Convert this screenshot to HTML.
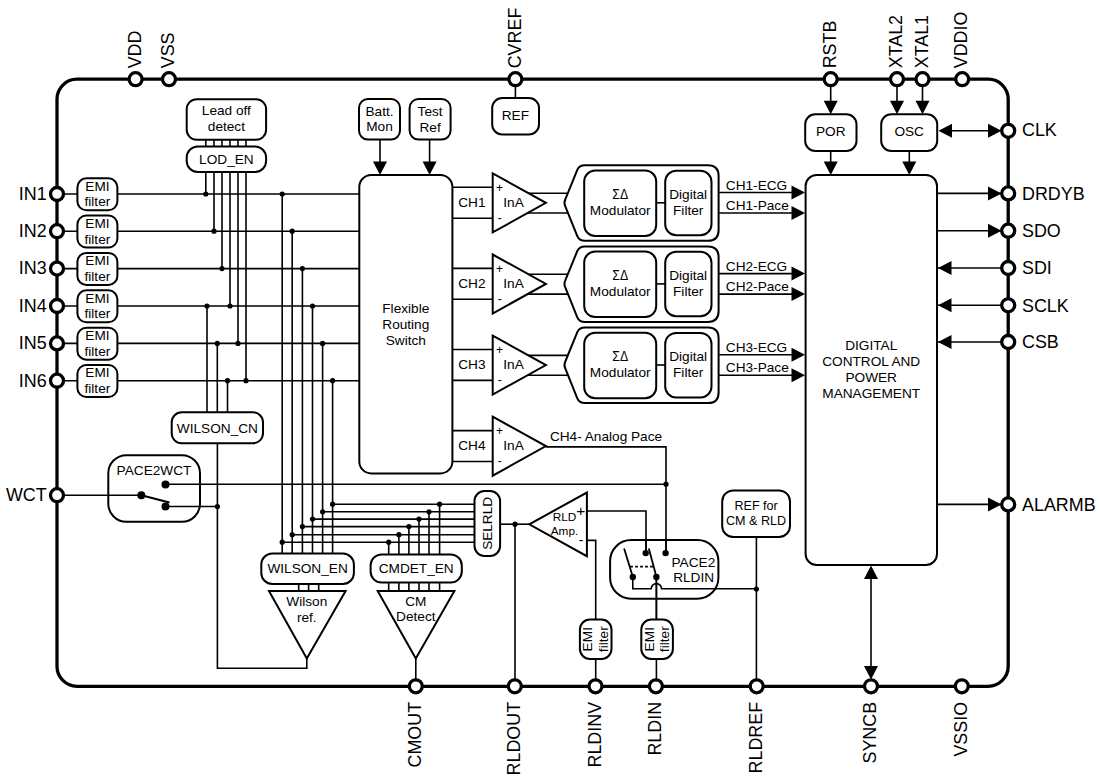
<!DOCTYPE html><html><head><meta charset="utf-8"><style>html,body{margin:0;padding:0;background:#fff;}svg{display:block;}text{font-family:"Liberation Sans",sans-serif;fill:#000;}</style></head><body>
<svg width="1100" height="778" viewBox="0 0 1100 778">
<rect x="0" y="0" width="1100" height="778" fill="#fff"/>
<path d="M57.00,194.00 L359.30,194.00" fill="none" stroke="#000" stroke-width="1.6" />
<path d="M57.00,231.20 L359.30,231.20" fill="none" stroke="#000" stroke-width="1.6" />
<path d="M57.00,268.60 L359.30,268.60" fill="none" stroke="#000" stroke-width="1.6" />
<path d="M57.00,306.00 L359.30,306.00" fill="none" stroke="#000" stroke-width="1.6" />
<path d="M57.00,343.40 L359.30,343.40" fill="none" stroke="#000" stroke-width="1.6" />
<path d="M57.00,380.70 L359.30,380.70" fill="none" stroke="#000" stroke-width="1.6" />
<path d="M205.80,139.80 L205.80,146.50" fill="none" stroke="#000" stroke-width="1.6" />
<path d="M205.80,172.00 L205.80,194.00" fill="none" stroke="#000" stroke-width="1.6" />
<circle cx="205.80" cy="194.00" r="2.6" fill="#000"/>
<path d="M214.00,139.80 L214.00,146.50" fill="none" stroke="#000" stroke-width="1.6" />
<path d="M214.00,172.00 L214.00,231.20" fill="none" stroke="#000" stroke-width="1.6" />
<circle cx="214.00" cy="231.20" r="2.6" fill="#000"/>
<path d="M222.00,139.80 L222.00,146.50" fill="none" stroke="#000" stroke-width="1.6" />
<path d="M222.00,172.00 L222.00,268.60" fill="none" stroke="#000" stroke-width="1.6" />
<circle cx="222.00" cy="268.60" r="2.6" fill="#000"/>
<path d="M230.00,139.80 L230.00,146.50" fill="none" stroke="#000" stroke-width="1.6" />
<path d="M230.00,172.00 L230.00,306.00" fill="none" stroke="#000" stroke-width="1.6" />
<circle cx="230.00" cy="306.00" r="2.6" fill="#000"/>
<path d="M238.00,139.80 L238.00,146.50" fill="none" stroke="#000" stroke-width="1.6" />
<path d="M238.00,172.00 L238.00,343.40" fill="none" stroke="#000" stroke-width="1.6" />
<circle cx="238.00" cy="343.40" r="2.6" fill="#000"/>
<path d="M246.00,139.80 L246.00,146.50" fill="none" stroke="#000" stroke-width="1.6" />
<path d="M246.00,172.00 L246.00,380.70" fill="none" stroke="#000" stroke-width="1.6" />
<circle cx="246.00" cy="380.70" r="2.6" fill="#000"/>
<path d="M207.00,306.00 L207.00,412.30" fill="none" stroke="#000" stroke-width="1.6" />
<circle cx="207.00" cy="306.00" r="2.6" fill="#000"/>
<path d="M217.30,343.40 L217.30,412.30" fill="none" stroke="#000" stroke-width="1.6" />
<circle cx="217.30" cy="343.40" r="2.6" fill="#000"/>
<path d="M227.50,380.70 L227.50,412.30" fill="none" stroke="#000" stroke-width="1.6" />
<circle cx="227.50" cy="380.70" r="2.6" fill="#000"/>
<path d="M217.40,443.30 L217.40,668.20 L306.80,668.20 L306.80,658.50" fill="none" stroke="#000" stroke-width="1.6" />
<circle cx="217.40" cy="506.50" r="2.6" fill="#000"/>
<path d="M282.20,194.00 L282.20,553.50" fill="none" stroke="#000" stroke-width="1.6" />
<circle cx="282.20" cy="194.00" r="2.6" fill="#000"/>
<path d="M282.20,542.20 L474.30,542.20" fill="none" stroke="#000" stroke-width="1.6" />
<circle cx="282.20" cy="542.20" r="2.6" fill="#000"/>
<path d="M388.70,542.20 L388.70,591.10" fill="none" stroke="#000" stroke-width="1.6" />
<circle cx="388.70" cy="542.20" r="2.6" fill="#000"/>
<path d="M292.20,231.20 L292.20,553.50" fill="none" stroke="#000" stroke-width="1.6" />
<circle cx="292.20" cy="231.20" r="2.6" fill="#000"/>
<path d="M292.20,534.70 L474.30,534.70" fill="none" stroke="#000" stroke-width="1.6" />
<circle cx="292.20" cy="534.70" r="2.6" fill="#000"/>
<path d="M398.90,534.70 L398.90,591.10" fill="none" stroke="#000" stroke-width="1.6" />
<circle cx="398.90" cy="534.70" r="2.6" fill="#000"/>
<path d="M302.40,268.60 L302.40,553.50" fill="none" stroke="#000" stroke-width="1.6" />
<circle cx="302.40" cy="268.60" r="2.6" fill="#000"/>
<path d="M302.40,526.60 L474.30,526.60" fill="none" stroke="#000" stroke-width="1.6" />
<circle cx="302.40" cy="526.60" r="2.6" fill="#000"/>
<path d="M408.90,526.60 L408.90,591.10" fill="none" stroke="#000" stroke-width="1.6" />
<circle cx="408.90" cy="526.60" r="2.6" fill="#000"/>
<path d="M312.50,306.00 L312.50,553.50" fill="none" stroke="#000" stroke-width="1.6" />
<circle cx="312.50" cy="306.00" r="2.6" fill="#000"/>
<path d="M312.50,519.10 L474.30,519.10" fill="none" stroke="#000" stroke-width="1.6" />
<circle cx="312.50" cy="519.10" r="2.6" fill="#000"/>
<path d="M419.00,519.10 L419.00,591.10" fill="none" stroke="#000" stroke-width="1.6" />
<circle cx="419.00" cy="519.10" r="2.6" fill="#000"/>
<path d="M322.60,343.40 L322.60,553.50" fill="none" stroke="#000" stroke-width="1.6" />
<circle cx="322.60" cy="343.40" r="2.6" fill="#000"/>
<path d="M322.60,511.80 L474.30,511.80" fill="none" stroke="#000" stroke-width="1.6" />
<circle cx="322.60" cy="511.80" r="2.6" fill="#000"/>
<path d="M429.00,511.80 L429.00,591.10" fill="none" stroke="#000" stroke-width="1.6" />
<circle cx="429.00" cy="511.80" r="2.6" fill="#000"/>
<path d="M332.60,380.70 L332.60,553.50" fill="none" stroke="#000" stroke-width="1.6" />
<circle cx="332.60" cy="380.70" r="2.6" fill="#000"/>
<path d="M332.60,504.20 L474.30,504.20" fill="none" stroke="#000" stroke-width="1.6" />
<circle cx="332.60" cy="504.20" r="2.6" fill="#000"/>
<path d="M439.60,504.20 L439.60,591.10" fill="none" stroke="#000" stroke-width="1.6" />
<circle cx="439.60" cy="504.20" r="2.6" fill="#000"/>
<path d="M298.70,583.90 L298.70,590.90" fill="none" stroke="#000" stroke-width="1.6" />
<path d="M308.60,583.90 L308.60,590.90" fill="none" stroke="#000" stroke-width="1.6" />
<path d="M318.70,583.90 L318.70,590.90" fill="none" stroke="#000" stroke-width="1.6" />
<path d="M165.50,484.20 L666.00,484.20" fill="none" stroke="#000" stroke-width="1.6" />
<circle cx="666.00" cy="484.20" r="2.6" fill="#000"/>
<path d="M165.50,506.50 L217.40,506.50" fill="none" stroke="#000" stroke-width="1.6" />
<path d="M57.00,495.20 L141.30,495.20" fill="none" stroke="#000" stroke-width="1.6" />
<path d="M415.80,658.40 L415.80,686.30" fill="none" stroke="#000" stroke-width="1.6" />
<path d="M500.00,524.20 L529.30,524.20" fill="none" stroke="#000" stroke-width="1.6" />
<path d="M515.00,524.20 L515.00,686.30" fill="none" stroke="#000" stroke-width="1.6" />
<circle cx="515.00" cy="524.20" r="2.6" fill="#000"/>
<path d="M586.90,511.00 L646.00,511.00 L646.00,553.10" fill="none" stroke="#000" stroke-width="1.6" />
<path d="M586.90,540.40 L595.70,540.40 L595.70,686.30" fill="none" stroke="#000" stroke-width="1.6" />
<path d="M545.80,446.90 L666.00,446.90 L666.00,553.10" fill="none" stroke="#000" stroke-width="1.6" />
<path d="M656.40,576.70 L656.40,686.30" fill="none" stroke="#000" stroke-width="1.6" />
<path d="M756.40,536.90 L756.40,686.30" fill="none" stroke="#000" stroke-width="1.6" />
<circle cx="756.40" cy="589.00" r="2.6" fill="#000"/>
<rect x="57.0" y="79.2" width="951.20" height="607.10" rx="20" ry="20" fill="none" stroke="#000" stroke-width="3.3"/>
<rect x="77.40" y="178.30" width="40.00" height="32.00" rx="9" ry="9" fill="#fff" stroke="#000" stroke-width="2.0"/>
<text x="97.40" y="190.70" font-size="13.6" text-anchor="middle" >EMI</text>
<text x="97.40" y="206.30" font-size="13.6" text-anchor="middle" >filter</text>
<rect x="77.40" y="215.50" width="40.00" height="32.00" rx="9" ry="9" fill="#fff" stroke="#000" stroke-width="2.0"/>
<text x="97.40" y="227.90" font-size="13.6" text-anchor="middle" >EMI</text>
<text x="97.40" y="243.50" font-size="13.6" text-anchor="middle" >filter</text>
<rect x="77.40" y="252.90" width="40.00" height="32.00" rx="9" ry="9" fill="#fff" stroke="#000" stroke-width="2.0"/>
<text x="97.40" y="265.30" font-size="13.6" text-anchor="middle" >EMI</text>
<text x="97.40" y="280.90" font-size="13.6" text-anchor="middle" >filter</text>
<rect x="77.40" y="290.30" width="40.00" height="32.00" rx="9" ry="9" fill="#fff" stroke="#000" stroke-width="2.0"/>
<text x="97.40" y="302.70" font-size="13.6" text-anchor="middle" >EMI</text>
<text x="97.40" y="318.30" font-size="13.6" text-anchor="middle" >filter</text>
<rect x="77.40" y="327.70" width="40.00" height="32.00" rx="9" ry="9" fill="#fff" stroke="#000" stroke-width="2.0"/>
<text x="97.40" y="340.10" font-size="13.6" text-anchor="middle" >EMI</text>
<text x="97.40" y="355.70" font-size="13.6" text-anchor="middle" >filter</text>
<rect x="77.40" y="365.00" width="40.00" height="32.00" rx="9" ry="9" fill="#fff" stroke="#000" stroke-width="2.0"/>
<text x="97.40" y="377.40" font-size="13.6" text-anchor="middle" >EMI</text>
<text x="97.40" y="393.00" font-size="13.6" text-anchor="middle" >filter</text>
<rect x="186.70" y="99.20" width="79.40" height="40.60" rx="10" ry="10" fill="#fff" stroke="#000" stroke-width="2.0"/>
<text x="226.40" y="115.40" font-size="13.65" text-anchor="middle" >Lead off</text>
<text x="226.40" y="131.30" font-size="13.65" text-anchor="middle" >detect</text>
<rect x="186.70" y="146.50" width="79.40" height="25.50" rx="11" ry="11" fill="#fff" stroke="#000" stroke-width="2.0"/>
<text x="226.40" y="163.50" font-size="13.65" text-anchor="middle" >LOD_EN</text>
<rect x="171.70" y="412.30" width="91.30" height="31.00" rx="10" ry="10" fill="#fff" stroke="#000" stroke-width="2.0"/>
<text x="217.40" y="432.70" font-size="13.65" text-anchor="middle" >WILSON_CN</text>
<rect x="108.30" y="455.30" width="91.70" height="66.40" rx="18" ry="18" fill="none" stroke="#000" stroke-width="2.0"/>
<text x="154.00" y="474.50" font-size="13.65" text-anchor="middle" >PACE2WCT</text>
<circle cx="141.30" cy="495.30" r="4" fill="#000"/>
<circle cx="165.50" cy="484.50" r="4" fill="#000"/>
<circle cx="165.50" cy="506.50" r="4" fill="#000"/>
<path d="M141.30,495.30 L169.50,502.50" fill="none" stroke="#000" stroke-width="2.0" />
<rect x="261.30" y="553.50" width="92.60" height="30.40" rx="11" ry="11" fill="#fff" stroke="#000" stroke-width="2.0"/>
<text x="307.60" y="572.60" font-size="13.65" text-anchor="middle" >WILSON_EN</text>
<path d="M269,590.9 L345.6,590.9 L306.8,658.5 Z" fill="#fff" stroke="#000" stroke-width="2.0" stroke-linejoin="miter"/>
<text x="306.80" y="606.20" font-size="13.65" text-anchor="middle" >Wilson</text>
<text x="306.80" y="621.80" font-size="13.65" text-anchor="middle" >ref.</text>
<rect x="370.60" y="554.40" width="91.20" height="28.20" rx="11" ry="11" fill="#fff" stroke="#000" stroke-width="2.0"/>
<text x="416.20" y="572.70" font-size="13.65" text-anchor="middle" >CMDET_EN</text>
<path d="M377.7,591.1 L454.4,591.1 L415.8,658.4 Z" fill="#fff" stroke="#000" stroke-width="2.0"/>
<text x="415.80" y="605.50" font-size="13.65" text-anchor="middle" >CM</text>
<text x="415.80" y="621.40" font-size="13.65" text-anchor="middle" >Detect</text>
<rect x="474.50" y="491.00" width="25.60" height="64.90" rx="10" ry="10" fill="#fff" stroke="#000" stroke-width="2.0"/>
<text x="491.80" y="523.40" font-size="13.6" text-anchor="middle" transform="rotate(-90 491.8 523.4)">SELRLD</text>
<rect x="359.00" y="99.00" width="41.00" height="40.60" rx="9" ry="9" fill="#fff" stroke="#000" stroke-width="2.0"/>
<text x="379.50" y="116.00" font-size="13.65" text-anchor="middle" >Batt.</text>
<text x="379.50" y="131.30" font-size="13.65" text-anchor="middle" >Mon</text>
<rect x="409.60" y="99.00" width="41.00" height="40.60" rx="9" ry="9" fill="#fff" stroke="#000" stroke-width="2.0"/>
<text x="430.10" y="116.00" font-size="13.65" text-anchor="middle" >Test</text>
<text x="430.10" y="131.80" font-size="13.65" text-anchor="middle" >Ref</text>
<path d="M380.00,139.60 L380.00,162.00" fill="none" stroke="#000" stroke-width="1.6" />
<path d="M380.00,175.00 L373.00,161.50 L387.00,161.50Z" fill="#000"/>
<path d="M429.60,139.60 L429.60,162.00" fill="none" stroke="#000" stroke-width="1.6" />
<path d="M429.60,175.00 L422.60,161.50 L436.60,161.50Z" fill="#000"/>
<rect x="359.30" y="175.00" width="93.10" height="298.40" rx="12" ry="12" fill="#fff" stroke="#000" stroke-width="2.0"/>
<text x="405.80" y="312.50" font-size="13.65" text-anchor="middle" >Flexible</text>
<text x="405.80" y="328.80" font-size="13.65" text-anchor="middle" >Routing</text>
<text x="405.80" y="344.80" font-size="13.65" text-anchor="middle" >Switch</text>
<path d="M515.40,79.20 L515.40,98.00" fill="none" stroke="#000" stroke-width="1.6" />
<rect x="492.20" y="98.00" width="46.80" height="36.50" rx="10" ry="10" fill="#fff" stroke="#000" stroke-width="2.0"/>
<text x="515.40" y="120.10" font-size="13.65" text-anchor="middle" >REF</text>
<path d="M452.40,187.30 L492.70,187.30" fill="none" stroke="#000" stroke-width="1.6" />
<path d="M452.40,218.20 L492.70,218.20" fill="none" stroke="#000" stroke-width="1.6" />
<text x="458.20" y="207.00" font-size="13.65" text-anchor="start" >CH1</text>
<path d="M520.00,193.20 L567.50,193.20" fill="none" stroke="#000" stroke-width="1.6" />
<path d="M520.00,213.00 L567.50,213.00" fill="none" stroke="#000" stroke-width="1.6" />
<path d="M492.7,173.40 L545.9,202.80 L492.7,232.40 Z" fill="#fff" stroke="#000" stroke-width="2.0"/>
<text x="503.30" y="207.00" font-size="13.65" text-anchor="start" >InA</text>
<text x="499.60" y="191.90" font-size="12" text-anchor="middle" >+</text>
<text x="499.80" y="221.90" font-size="12" text-anchor="middle" >-</text>
<path d="M585,165.30 L708,165.30 Q718.6,165.30 718.6,175.90 L718.6,230.20 Q718.6,240.80 708,240.80 L585,240.80 Q579.2,240.80 577.3,236.20 L565.3,206.30 Q563.6,202.80 565.3,199.30 L577.3,169.90 Q579.2,165.30 585,165.30 Z" fill="#fff" stroke="#000" stroke-width="2.0"/>
<path d="M656.20,202.80 L665.20,202.80" fill="none" stroke="#000" stroke-width="1.6" />
<rect x="584.20" y="170.50" width="72.00" height="65.50" rx="11" ry="11" fill="#fff" stroke="#000" stroke-width="2.0"/>
<rect x="665.20" y="170.70" width="46.30" height="64.50" rx="11" ry="11" fill="#fff" stroke="#000" stroke-width="2.0"/>
<text x="620.20" y="198.60" font-size="14.9" text-anchor="middle" textLength="15.8" lengthAdjust="spacingAndGlyphs">ΣΔ</text>
<text x="620.20" y="215.00" font-size="13.65" text-anchor="middle" >Modulator</text>
<text x="688.20" y="198.60" font-size="13.65" text-anchor="middle" >Digital</text>
<text x="688.20" y="214.80" font-size="13.65" text-anchor="middle" >Filter</text>
<path d="M718.60,192.50 L792.00,192.50" fill="none" stroke="#000" stroke-width="1.6" />
<path d="M718.60,213.00 L792.00,213.00" fill="none" stroke="#000" stroke-width="1.6" />
<path d="M805.00,192.50 L791.50,185.50 L791.50,199.50Z" fill="#000"/>
<path d="M805.00,213.00 L791.50,206.00 L791.50,220.00Z" fill="#000"/>
<text x="725.80" y="189.50" font-size="13.65" text-anchor="start" >CH1-ECG</text>
<text x="725.80" y="210.10" font-size="13.65" text-anchor="start" >CH1-Pace</text>
<path d="M452.40,268.40 L492.70,268.40" fill="none" stroke="#000" stroke-width="1.6" />
<path d="M452.40,299.30 L492.70,299.30" fill="none" stroke="#000" stroke-width="1.6" />
<text x="458.20" y="288.10" font-size="13.65" text-anchor="start" >CH2</text>
<path d="M520.00,274.30 L567.50,274.30" fill="none" stroke="#000" stroke-width="1.6" />
<path d="M520.00,294.10 L567.50,294.10" fill="none" stroke="#000" stroke-width="1.6" />
<path d="M492.7,254.50 L545.9,283.90 L492.7,313.50 Z" fill="#fff" stroke="#000" stroke-width="2.0"/>
<text x="503.30" y="288.10" font-size="13.65" text-anchor="start" >InA</text>
<text x="499.60" y="273.00" font-size="12" text-anchor="middle" >+</text>
<text x="499.80" y="303.00" font-size="12" text-anchor="middle" >-</text>
<path d="M585,246.40 L708,246.40 Q718.6,246.40 718.6,257.00 L718.6,311.30 Q718.6,321.90 708,321.90 L585,321.90 Q579.2,321.90 577.3,317.30 L565.3,287.40 Q563.6,283.90 565.3,280.40 L577.3,251.00 Q579.2,246.40 585,246.40 Z" fill="#fff" stroke="#000" stroke-width="2.0"/>
<path d="M656.20,283.90 L665.20,283.90" fill="none" stroke="#000" stroke-width="1.6" />
<rect x="584.20" y="251.60" width="72.00" height="65.50" rx="11" ry="11" fill="#fff" stroke="#000" stroke-width="2.0"/>
<rect x="665.20" y="251.80" width="46.30" height="64.50" rx="11" ry="11" fill="#fff" stroke="#000" stroke-width="2.0"/>
<text x="620.20" y="279.70" font-size="14.9" text-anchor="middle" textLength="15.8" lengthAdjust="spacingAndGlyphs">ΣΔ</text>
<text x="620.20" y="296.10" font-size="13.65" text-anchor="middle" >Modulator</text>
<text x="688.20" y="279.70" font-size="13.65" text-anchor="middle" >Digital</text>
<text x="688.20" y="295.90" font-size="13.65" text-anchor="middle" >Filter</text>
<path d="M718.60,273.60 L792.00,273.60" fill="none" stroke="#000" stroke-width="1.6" />
<path d="M718.60,294.10 L792.00,294.10" fill="none" stroke="#000" stroke-width="1.6" />
<path d="M805.00,273.60 L791.50,266.60 L791.50,280.60Z" fill="#000"/>
<path d="M805.00,294.10 L791.50,287.10 L791.50,301.10Z" fill="#000"/>
<text x="725.80" y="270.60" font-size="13.65" text-anchor="start" >CH2-ECG</text>
<text x="725.80" y="291.20" font-size="13.65" text-anchor="start" >CH2-Pace</text>
<path d="M452.40,349.50 L492.70,349.50" fill="none" stroke="#000" stroke-width="1.6" />
<path d="M452.40,380.40 L492.70,380.40" fill="none" stroke="#000" stroke-width="1.6" />
<text x="458.20" y="369.20" font-size="13.65" text-anchor="start" >CH3</text>
<path d="M520.00,355.40 L567.50,355.40" fill="none" stroke="#000" stroke-width="1.6" />
<path d="M520.00,375.20 L567.50,375.20" fill="none" stroke="#000" stroke-width="1.6" />
<path d="M492.7,335.60 L545.9,365.00 L492.7,394.60 Z" fill="#fff" stroke="#000" stroke-width="2.0"/>
<text x="503.30" y="369.20" font-size="13.65" text-anchor="start" >InA</text>
<text x="499.60" y="354.10" font-size="12" text-anchor="middle" >+</text>
<text x="499.80" y="384.10" font-size="12" text-anchor="middle" >-</text>
<path d="M585,327.50 L708,327.50 Q718.6,327.50 718.6,338.10 L718.6,392.40 Q718.6,403.00 708,403.00 L585,403.00 Q579.2,403.00 577.3,398.40 L565.3,368.50 Q563.6,365.00 565.3,361.50 L577.3,332.10 Q579.2,327.50 585,327.50 Z" fill="#fff" stroke="#000" stroke-width="2.0"/>
<path d="M656.20,365.00 L665.20,365.00" fill="none" stroke="#000" stroke-width="1.6" />
<rect x="584.20" y="332.70" width="72.00" height="65.50" rx="11" ry="11" fill="#fff" stroke="#000" stroke-width="2.0"/>
<rect x="665.20" y="332.90" width="46.30" height="64.50" rx="11" ry="11" fill="#fff" stroke="#000" stroke-width="2.0"/>
<text x="620.20" y="360.80" font-size="14.9" text-anchor="middle" textLength="15.8" lengthAdjust="spacingAndGlyphs">ΣΔ</text>
<text x="620.20" y="377.20" font-size="13.65" text-anchor="middle" >Modulator</text>
<text x="688.20" y="360.80" font-size="13.65" text-anchor="middle" >Digital</text>
<text x="688.20" y="377.00" font-size="13.65" text-anchor="middle" >Filter</text>
<path d="M718.60,354.70 L792.00,354.70" fill="none" stroke="#000" stroke-width="1.6" />
<path d="M718.60,375.20 L792.00,375.20" fill="none" stroke="#000" stroke-width="1.6" />
<path d="M805.00,354.70 L791.50,347.70 L791.50,361.70Z" fill="#000"/>
<path d="M805.00,375.20 L791.50,368.20 L791.50,382.20Z" fill="#000"/>
<text x="725.80" y="351.70" font-size="13.65" text-anchor="start" >CH3-ECG</text>
<text x="725.80" y="372.30" font-size="13.65" text-anchor="start" >CH3-Pace</text>
<path d="M452.40,430.60 L492.70,430.60" fill="none" stroke="#000" stroke-width="1.6" />
<path d="M452.40,461.50 L492.70,461.50" fill="none" stroke="#000" stroke-width="1.6" />
<text x="458.20" y="450.30" font-size="13.65" text-anchor="start" >CH4</text>
<path d="M492.7,416.70 L545.9,446.10 L492.7,475.70 Z" fill="#fff" stroke="#000" stroke-width="2.0"/>
<text x="503.30" y="450.30" font-size="13.65" text-anchor="start" >InA</text>
<text x="499.60" y="435.20" font-size="12" text-anchor="middle" >+</text>
<text x="499.80" y="465.20" font-size="12" text-anchor="middle" >-</text>
<text x="549.90" y="441.10" font-size="13.65" text-anchor="start" >CH4- Analog Pace</text>
<path d="M586.9,492.5 L586.9,556.2 L529.3,524.3 Z" fill="#fff" stroke="#000" stroke-width="2.0"/>
<text x="564.50" y="521.30" font-size="11.8" text-anchor="middle" >RLD</text>
<text x="564.50" y="534.70" font-size="11.8" text-anchor="middle" >Amp.</text>
<text x="580.70" y="516.00" font-size="15.5" text-anchor="middle" >+</text>
<text x="581.20" y="544.70" font-size="14" text-anchor="middle" >-</text>
<rect x="610.10" y="540.10" width="108.30" height="58.60" rx="21" ry="21" fill="none" stroke="#000" stroke-width="2.0"/>
<path d="M632.8,576.7 L632.8,588.8 L651.2,588.8 A5.2,5.2 0 0 1 661.6,588.8 L756.4,588.8" fill="none" stroke="#000" stroke-width="1.6"/>
<path d="M656.40,576.70 L656.40,619.50" fill="none" stroke="#000" stroke-width="1.6" />
<path d="M646.00,540.10 L646.00,553.10" fill="none" stroke="#000" stroke-width="1.6" />
<path d="M666.00,540.10 L666.00,553.10" fill="none" stroke="#000" stroke-width="1.6" />
<circle cx="645.70" cy="553.10" r="3.2" fill="#000"/>
<circle cx="665.60" cy="553.10" r="3.2" fill="#000"/>
<path d="M624.10,548.60 L632.80,576.70" fill="none" stroke="#000" stroke-width="1.8" />
<path d="M648.80,548.60 L656.40,576.70" fill="none" stroke="#000" stroke-width="1.8" />
<circle cx="632.80" cy="576.90" r="3.2" fill="#000"/>
<circle cx="656.40" cy="576.90" r="3.2" fill="#000"/>
<path d="M630.10,566.60 L653.50,566.60" fill="none" stroke="#000" stroke-width="1.6" stroke-dasharray="2.8,2.2"/>
<text x="671.50" y="566.90" font-size="13.65" text-anchor="start" >PACE2</text>
<text x="673.20" y="582.30" font-size="13.65" text-anchor="start" >RLDIN</text>
<rect x="579.90" y="619.50" width="31.60" height="39.40" rx="10" ry="10" fill="#fff" stroke="#000" stroke-width="2.0"/>
<text x="592.20" y="639.2" font-size="13.7" text-anchor="middle" transform="rotate(-90 592.20 639.2)">EMI</text>
<text x="607.70" y="639.2" font-size="13.7" text-anchor="middle" transform="rotate(-90 607.70 639.2)">filter</text>
<rect x="641.30" y="619.50" width="31.60" height="39.40" rx="10" ry="10" fill="#fff" stroke="#000" stroke-width="2.0"/>
<text x="653.60" y="639.2" font-size="13.7" text-anchor="middle" transform="rotate(-90 653.60 639.2)">EMI</text>
<text x="669.10" y="639.2" font-size="13.7" text-anchor="middle" transform="rotate(-90 669.10 639.2)">filter</text>
<rect x="722.20" y="490.40" width="67.80" height="46.50" rx="11" ry="11" fill="#fff" stroke="#000" stroke-width="2.0"/>
<text x="756.10" y="509.60" font-size="12.6" text-anchor="middle" >REF for</text>
<text x="756.10" y="525.10" font-size="12.6" text-anchor="middle" >CM &amp; RLD</text>
<path d="M830.70,79.20 L830.70,101.00" fill="none" stroke="#000" stroke-width="1.6" />
<path d="M830.70,114.30 L823.70,100.80 L837.70,100.80Z" fill="#000"/>
<path d="M897.00,79.20 L897.00,101.00" fill="none" stroke="#000" stroke-width="1.6" />
<path d="M897.00,114.30 L890.00,100.80 L904.00,100.80Z" fill="#000"/>
<path d="M922.50,79.20 L922.50,101.00" fill="none" stroke="#000" stroke-width="1.6" />
<path d="M922.50,114.30 L915.50,100.80 L929.50,100.80Z" fill="#000"/>
<rect x="805.20" y="114.30" width="51.30" height="36.70" rx="10" ry="10" fill="#fff" stroke="#000" stroke-width="2.0"/>
<text x="830.80" y="136.40" font-size="13.65" text-anchor="middle" >POR</text>
<rect x="881.20" y="114.30" width="56.00" height="36.70" rx="10" ry="10" fill="#fff" stroke="#000" stroke-width="2.0"/>
<text x="909.20" y="136.40" font-size="13.65" text-anchor="middle" >OSC</text>
<path d="M830.70,151.00 L830.70,162.00" fill="none" stroke="#000" stroke-width="1.6" />
<path d="M830.70,175.00 L823.70,161.50 L837.70,161.50Z" fill="#000"/>
<path d="M909.30,151.00 L909.30,162.00" fill="none" stroke="#000" stroke-width="1.6" />
<path d="M909.30,175.00 L902.30,161.50 L916.30,161.50Z" fill="#000"/>
<path d="M950.00,130.80 L990.00,130.80" fill="none" stroke="#000" stroke-width="1.6" />
<path d="M938.50,130.80 L952.00,123.80 L952.00,137.80Z" fill="#000"/>
<path d="M1001.50,130.80 L988.00,123.80 L988.00,137.80Z" fill="#000"/>
<rect x="805.60" y="175.10" width="131.40" height="389.80" rx="11" ry="11" fill="#fff" stroke="#000" stroke-width="2.0"/>
<text x="871.20" y="350.00" font-size="13.65" text-anchor="middle" >DIGITAL</text>
<text x="871.20" y="366.10" font-size="13.65" text-anchor="middle" >CONTROL AND</text>
<text x="871.20" y="381.80" font-size="13.65" text-anchor="middle" >POWER</text>
<text x="871.20" y="397.50" font-size="13.65" text-anchor="middle" >MANAGEMENT</text>
<path d="M937.00,193.40 L1001.00,193.40" fill="none" stroke="#000" stroke-width="1.6" />
<path d="M1001.50,193.40 L988.00,186.40 L988.00,200.40Z" fill="#000"/>
<path d="M937.00,230.70 L1001.00,230.70" fill="none" stroke="#000" stroke-width="1.6" />
<path d="M1001.50,230.70 L988.00,223.70 L988.00,237.70Z" fill="#000"/>
<path d="M937.00,268.00 L1001.00,268.00" fill="none" stroke="#000" stroke-width="1.6" />
<path d="M938.00,268.00 L951.50,261.00 L951.50,275.00Z" fill="#000"/>
<path d="M937.00,305.30 L1001.00,305.30" fill="none" stroke="#000" stroke-width="1.6" />
<path d="M938.00,305.30 L951.50,298.30 L951.50,312.30Z" fill="#000"/>
<path d="M937.00,342.00 L1001.00,342.00" fill="none" stroke="#000" stroke-width="1.6" />
<path d="M938.00,342.00 L951.50,335.00 L951.50,349.00Z" fill="#000"/>
<path d="M937.00,504.40 L1001.00,504.40" fill="none" stroke="#000" stroke-width="1.6" />
<path d="M1001.50,504.40 L988.00,497.40 L988.00,511.40Z" fill="#000"/>
<path d="M871.00,575.00 L871.00,670.00" fill="none" stroke="#000" stroke-width="1.6" />
<path d="M871.00,565.50 L864.00,579.00 L878.00,579.00Z" fill="#000"/>
<path d="M871.00,679.50 L864.00,666.00 L878.00,666.00Z" fill="#000"/>
<circle cx="135.60" cy="79.20" r="6.5" fill="#fff" stroke="#000" stroke-width="3.3"/>
<text x="140.90" y="68.3" font-size="17.9" text-anchor="start" transform="rotate(-90 140.90 68.3)">VDD</text>
<circle cx="169.00" cy="79.20" r="6.5" fill="#fff" stroke="#000" stroke-width="3.3"/>
<text x="174.30" y="68.3" font-size="17.9" text-anchor="start" transform="rotate(-90 174.30 68.3)">VSS</text>
<circle cx="515.40" cy="79.20" r="6.5" fill="#fff" stroke="#000" stroke-width="3.3"/>
<text x="520.70" y="68.3" font-size="17.9" text-anchor="start" transform="rotate(-90 520.70 68.3)">CVREF</text>
<circle cx="830.70" cy="79.20" r="6.5" fill="#fff" stroke="#000" stroke-width="3.3"/>
<text x="836.00" y="68.3" font-size="17.9" text-anchor="start" transform="rotate(-90 836.00 68.3)">RSTB</text>
<circle cx="897.00" cy="79.20" r="6.5" fill="#fff" stroke="#000" stroke-width="3.3"/>
<text x="902.30" y="68.3" font-size="17.9" text-anchor="start" transform="rotate(-90 902.30 68.3)">XTAL2</text>
<circle cx="922.50" cy="79.20" r="6.5" fill="#fff" stroke="#000" stroke-width="3.3"/>
<text x="927.80" y="68.3" font-size="17.9" text-anchor="start" transform="rotate(-90 927.80 68.3)">XTAL1</text>
<circle cx="962.20" cy="79.20" r="6.5" fill="#fff" stroke="#000" stroke-width="3.3"/>
<text x="967.50" y="68.3" font-size="17.9" text-anchor="start" transform="rotate(-90 967.50 68.3)">VDDIO</text>
<circle cx="57.00" cy="194.00" r="6.5" fill="#fff" stroke="#000" stroke-width="3.3"/>
<text x="46.70" y="199.80" font-size="17.9" text-anchor="end" >IN1</text>
<circle cx="57.00" cy="231.20" r="6.5" fill="#fff" stroke="#000" stroke-width="3.3"/>
<text x="46.70" y="237.00" font-size="17.9" text-anchor="end" >IN2</text>
<circle cx="57.00" cy="268.60" r="6.5" fill="#fff" stroke="#000" stroke-width="3.3"/>
<text x="46.70" y="274.40" font-size="17.9" text-anchor="end" >IN3</text>
<circle cx="57.00" cy="306.00" r="6.5" fill="#fff" stroke="#000" stroke-width="3.3"/>
<text x="46.70" y="311.80" font-size="17.9" text-anchor="end" >IN4</text>
<circle cx="57.00" cy="343.40" r="6.5" fill="#fff" stroke="#000" stroke-width="3.3"/>
<text x="46.70" y="349.20" font-size="17.9" text-anchor="end" >IN5</text>
<circle cx="57.00" cy="380.70" r="6.5" fill="#fff" stroke="#000" stroke-width="3.3"/>
<text x="46.70" y="386.50" font-size="17.9" text-anchor="end" >IN6</text>
<circle cx="57.00" cy="495.20" r="6.5" fill="#fff" stroke="#000" stroke-width="3.3"/>
<text x="46.70" y="501.00" font-size="17.9" text-anchor="end" >WCT</text>
<circle cx="1008.20" cy="130.80" r="6.5" fill="#fff" stroke="#000" stroke-width="3.3"/>
<text x="1022.00" y="135.60" font-size="17.9" text-anchor="start" >CLK</text>
<circle cx="1008.20" cy="193.40" r="6.5" fill="#fff" stroke="#000" stroke-width="3.3"/>
<text x="1022.00" y="199.60" font-size="17.9" text-anchor="start" >DRDYB</text>
<circle cx="1008.20" cy="230.70" r="6.5" fill="#fff" stroke="#000" stroke-width="3.3"/>
<text x="1022.00" y="236.90" font-size="17.9" text-anchor="start" >SDO</text>
<circle cx="1008.20" cy="268.00" r="6.5" fill="#fff" stroke="#000" stroke-width="3.3"/>
<text x="1022.00" y="274.20" font-size="17.9" text-anchor="start" >SDI</text>
<circle cx="1008.20" cy="305.30" r="6.5" fill="#fff" stroke="#000" stroke-width="3.3"/>
<text x="1022.00" y="311.50" font-size="17.9" text-anchor="start" >SCLK</text>
<circle cx="1008.20" cy="342.00" r="6.5" fill="#fff" stroke="#000" stroke-width="3.3"/>
<text x="1022.00" y="348.20" font-size="17.9" text-anchor="start" >CSB</text>
<circle cx="1008.20" cy="504.40" r="6.5" fill="#fff" stroke="#000" stroke-width="3.3"/>
<text x="1022.00" y="510.60" font-size="17.9" text-anchor="start" >ALARMB</text>
<circle cx="415.80" cy="686.30" r="6.5" fill="#fff" stroke="#000" stroke-width="3.3"/>
<text x="421.00" y="701.9" font-size="17.9" text-anchor="end" transform="rotate(-90 421.00 701.9)">CMOUT</text>
<circle cx="514.80" cy="686.30" r="6.5" fill="#fff" stroke="#000" stroke-width="3.3"/>
<text x="520.00" y="701.9" font-size="17.9" text-anchor="end" transform="rotate(-90 520.00 701.9)">RLDOUT</text>
<circle cx="595.50" cy="686.30" r="6.5" fill="#fff" stroke="#000" stroke-width="3.3"/>
<text x="600.70" y="701.9" font-size="17.9" text-anchor="end" transform="rotate(-90 600.70 701.9)">RLDINV</text>
<circle cx="655.90" cy="686.30" r="6.5" fill="#fff" stroke="#000" stroke-width="3.3"/>
<text x="661.10" y="701.9" font-size="17.9" text-anchor="end" transform="rotate(-90 661.10 701.9)">RLDIN</text>
<circle cx="756.70" cy="686.30" r="6.5" fill="#fff" stroke="#000" stroke-width="3.3"/>
<text x="761.90" y="701.9" font-size="17.9" text-anchor="end" transform="rotate(-90 761.90 701.9)">RLDREF</text>
<circle cx="871.00" cy="686.30" r="6.5" fill="#fff" stroke="#000" stroke-width="3.3"/>
<text x="876.20" y="701.9" font-size="17.9" text-anchor="end" transform="rotate(-90 876.20 701.9)">SYNCB</text>
<circle cx="961.80" cy="686.30" r="6.5" fill="#fff" stroke="#000" stroke-width="3.3"/>
<text x="967.00" y="701.9" font-size="17.9" text-anchor="end" transform="rotate(-90 967.00 701.9)">VSSIO</text>
</svg></body></html>
